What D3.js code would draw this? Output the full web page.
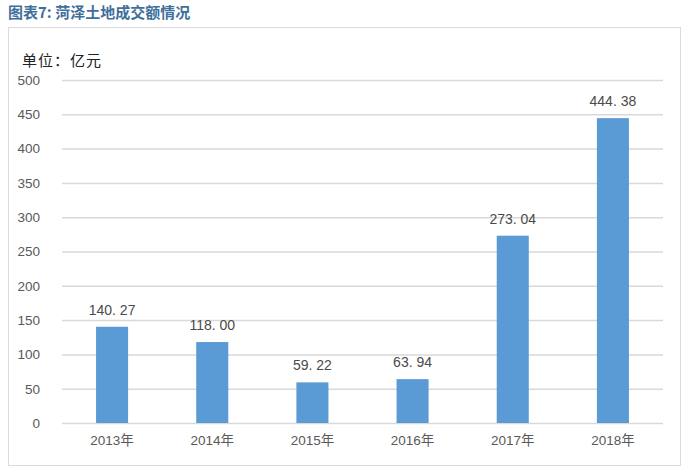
<!DOCTYPE html>
<html>
<head>
<meta charset="utf-8">
<script src="https://cdn.jsdelivr.net/npm/d3@7"></script>
<style>
  body { margin: 0; background: #fff; }
  svg { display: block; font-family: "Liberation Sans", Arial, "Noto Sans CJK SC", sans-serif; }
</style>
</head>
<body>
<svg id="chart"></svg>
<script>
// chart data
const years = ["2013年", "2014年", "2015年", "2016年", "2017年", "2018年"];
const amounts = [140.27, 118.00, 59.22, 63.94, 273.04, 444.38];
const yTicks = [0, 50, 100, 150, 200, 250, 300, 350, 400, 450, 500];

const W = 695, H = 474;
const margin = { top: 80, right: 32, bottom: 51, left: 62 };
const width = W - margin.left - margin.right;
const height = H - margin.top - margin.bottom;

const svg = d3.select("#chart").attr("width", W).attr("height", H);

// title
svg.append("text")
   .attr("x", 8).attr("y", 18)
   .attr("font-family", "'Noto Sans CJK SC', sans-serif")
   .attr("font-size", 15).attr("font-weight", "bold")
   .attr("fill", "#3f6f9b")
   .text("图表7: 菏泽土地成交额情况");

// frame
svg.append("rect")
   .attr("x", 8.5).attr("y", 27.5)
   .attr("width", 672).attr("height", 438)
   .attr("fill", "#fff").attr("stroke", "#dcdcdc");

// unit label
svg.append("text")
   .attr("x", 22).attr("y", 66)
   .attr("font-family", "'Noto Sans CJK SC', sans-serif")
   .attr("font-size", 15).attr("fill", "#222")
   .attr("letter-spacing", 1)
   .text("单位：亿元");

const g = svg.append("g").attr("transform", "translate(" + margin.left + "," + margin.top + ")");

const x = d3.scaleBand().domain(years).range([0, width]).paddingInner(0.68).paddingOuter(0.34);
const y = d3.scaleLinear().domain([0, 500]).range([height, 0]);

// gridlines
g.append("g")
 .call(d3.axisLeft(y).tickValues(yTicks).tickSize(-width).tickFormat(""))
 .call(s => s.select(".domain").remove())
 .call(s => s.selectAll("line").attr("stroke", "#d9d9d9").attr("stroke-width", 1.5));

// y tick labels
g.append("g")
 .call(d3.axisLeft(y).tickValues(yTicks).tickSize(0).tickPadding(22))
 .call(s => s.select(".domain").remove())
 .call(s => s.selectAll("text").attr("font-size", 13.5).attr("fill", "#595959")
             .attr("font-family", "'Liberation Sans', Arial, sans-serif"));

// bars
g.selectAll(".bar")
 .data(amounts)
 .enter().append("rect")
 .attr("class", "bar")
 .attr("x", (d, i) => x(years[i]))
 .attr("y", d => y(d))
 .attr("width", x.bandwidth())
 .attr("height", d => height - y(d))
 .attr("fill", "#5b9bd5");

// value labels
g.selectAll(".val")
 .data(amounts)
 .enter().append("text")
 .attr("class", "val")
 .attr("x", (d, i) => x(years[i]) + x.bandwidth() / 2)
 .attr("y", d => y(d) - 12)
 .attr("text-anchor", "middle")
 .attr("font-size", 14).attr("fill", "#4a4a4a")
 .text(d => d3.format(".2f")(d).replace(".", ". "));

// x axis labels
g.append("g")
 .attr("transform", "translate(0," + height + ")")
 .call(d3.axisBottom(x).tickSize(0).tickPadding(12))
 .call(s => s.select(".domain").remove())
 .call(s => s.selectAll("text").attr("font-size", 13.5).attr("fill", "#595959")
             .attr("font-family", "'Liberation Sans', 'Noto Sans CJK SC', sans-serif"));
</script>
</body>
</html>
